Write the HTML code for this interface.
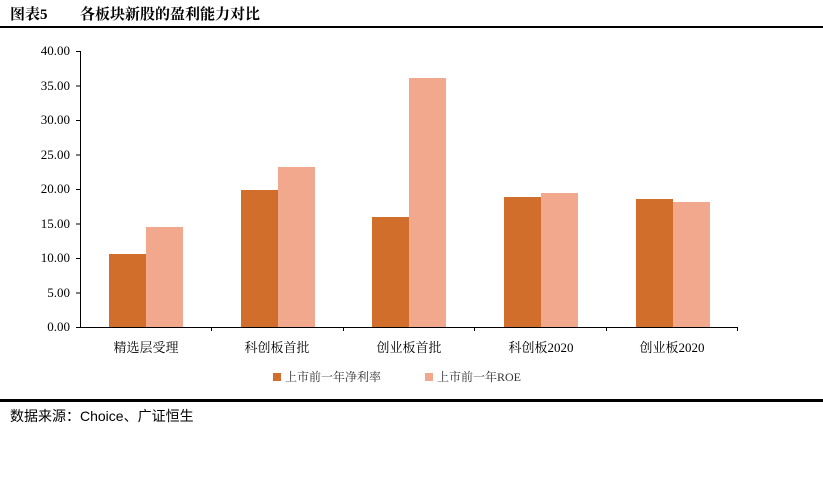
<!DOCTYPE html>
<html><head><meta charset="utf-8"><style>
html,body{margin:0;padding:0;background:#fff;}
svg{display:block;}
</style></head><body>
<svg width="823" height="477" xmlns="http://www.w3.org/2000/svg" font-family="'Liberation Serif','Noto Serif CJK SC',serif">
<text x="10" y="19" font-size="15" font-weight="bold" fill="#000">图表5</text>
<text x="80" y="19" font-size="15" font-weight="bold" fill="#000">各板块新股的盈利能力对比</text>
<rect x="0" y="26" width="823" height="2" fill="#000"/>
<g font-size="13" fill="#000" text-anchor="end" font-family="'Liberation Serif',serif">
<text x="70" y="331">0.00</text>
<text x="70" y="297">5.00</text>
<text x="70" y="262">10.00</text>
<text x="70" y="228">15.00</text>
<text x="70" y="193">20.00</text>
<text x="70" y="159">25.00</text>
<text x="70" y="124">30.00</text>
<text x="70" y="90">35.00</text>
<text x="70" y="55">40.00</text>
</g>
<g fill="#D26E2C">
<rect x="109" y="254" width="37" height="73"/>
<rect x="241" y="190" width="37" height="137"/>
<rect x="372" y="217" width="37" height="110"/>
<rect x="504" y="197" width="37" height="130"/>
<rect x="636" y="199" width="37" height="128"/>
</g>
<g fill="#F2A88C">
<rect x="146" y="227" width="37" height="100"/>
<rect x="278" y="167" width="37" height="160"/>
<rect x="409" y="78" width="37" height="249"/>
<rect x="541" y="193" width="37" height="134"/>
<rect x="673" y="202" width="37" height="125"/>
</g>
<g stroke="#000" stroke-width="1" fill="none">
<line x1="80.5" y1="51" x2="80.5" y2="327"/>
<line x1="80" y1="327.5" x2="738" y2="327.5"/>
<line x1="76" y1="327.5" x2="80" y2="327.5"/>
<line x1="76" y1="293" x2="80" y2="293"/>
<line x1="76" y1="258.5" x2="80" y2="258.5"/>
<line x1="76" y1="224" x2="80" y2="224"/>
<line x1="76" y1="189.5" x2="80" y2="189.5"/>
<line x1="76" y1="155" x2="80" y2="155"/>
<line x1="76" y1="120.5" x2="80" y2="120.5"/>
<line x1="76" y1="86" x2="80" y2="86"/>
<line x1="76" y1="51.5" x2="80" y2="51.5"/>
<line x1="211.5" y1="327" x2="211.5" y2="331"/>
<line x1="343.5" y1="327" x2="343.5" y2="331"/>
<line x1="474.5" y1="327" x2="474.5" y2="331"/>
<line x1="606.5" y1="327" x2="606.5" y2="331"/>
<line x1="737.5" y1="327" x2="737.5" y2="331"/>
</g>
<g font-size="13" fill="#000" text-anchor="middle">
<text x="146" y="352">精选层受理</text>
<text x="277" y="352">科创板首批</text>
<text x="409" y="352">创业板首批</text>
<text x="541" y="352">科创板2020</text>
<text x="672" y="352">创业板2020</text>
</g>
<rect x="273" y="373" width="8" height="8" fill="#D26E2C"/>
<text x="285" y="381" font-size="12" fill="#333">上市前一年净利率</text>
<rect x="425" y="373" width="8" height="8" fill="#F2A88C"/>
<text x="437" y="381" font-size="12" fill="#333">上市前一年ROE</text>
<rect x="0" y="399" width="823" height="3" fill="#000"/>
<text x="10" y="421" font-size="14" fill="#000" font-family="'Liberation Sans','Noto Sans CJK SC',sans-serif">数据来源：Choice、广证恒生</text>
</svg>
</body></html>
